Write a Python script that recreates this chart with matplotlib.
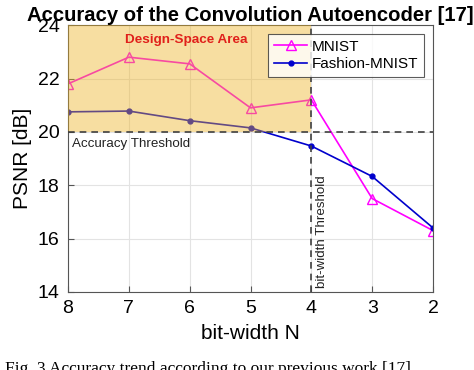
import numpy as np
import matplotlib.pyplot as plt

plt.rcParams['font.family'] = ['Liberation Sans', 'DejaVu Sans']

bits = [8, 7, 6, 5, 4, 3, 2]
psnr_mnist = [21.8, 22.8, 22.55, 20.9, 21.2, 17.5, 16.3]
psnr_fashion = [20.75, 20.78, 20.42, 20.15, 19.47, 18.33, 16.4]
acc_threshold = 20
bit_threshold = 4

fig = plt.figure(figsize=(4.74, 3.7), dpi=100)
ax = fig.add_axes([0.1435, 0.211, 0.77, 0.721])

ax.plot(bits, psnr_mnist, color='#ff00ff', marker='^', markersize=7,
        markerfacecolor='none', markeredgewidth=1.0, linewidth=1.2, label='MNIST')
ax.plot(bits, psnr_fashion, color='#0000cc', marker='o', markersize=3.5,
        linewidth=1.2, label='Fashion-MNIST')

# design space shading, drawn over the lines like the original
ax.fill_between([8, bit_threshold], acc_threshold, 24, color='#EDB120',
                alpha=0.42, linewidth=0, zorder=3)

ax.axhline(acc_threshold, color='#404040', linestyle=(0, (4, 3)), linewidth=1.2, zorder=4)
ax.axvline(bit_threshold, color='#404040', linestyle=(0, (4, 3)), linewidth=1.2, zorder=4)

ax.text(6.05, 23.45, 'Design-Space Area', color='#e0201b', fontweight='bold',
        fontsize=9.7, ha='center', va='center', zorder=5)
ax.text(7.93, 19.55, 'Accuracy Threshold', color='#222222', fontsize=9.6,
        ha='left', va='center', zorder=5)
ax.text(3.83, 14.15, 'bit-width Threshold', color='#222222', fontsize=9.6,
        rotation=90, ha='center', va='bottom', zorder=5)

ax.set_xlim(8, 2)
ax.set_ylim(14, 24)
ax.set_xticks(bits)
ax.set_yticks([14, 16, 18, 20, 22, 24])
ax.tick_params(direction='in', labelsize=14, length=4, color='#555555', pad=6)
ax.grid(True, color='#e3e3e3', linewidth=0.8)
ax.set_axisbelow(True)
for s in ax.spines.values():
    s.set_color('#555555')
    s.set_linewidth(0.8)

ax.set_xlabel('bit-width N', fontsize=15, labelpad=5)
ax.set_ylabel('PSNR [dB]', fontsize=15, labelpad=4)
ax.set_title('Accuracy of the Convolution Autoencoder [17]', fontsize=14.6,
             fontweight='bold', pad=3)

leg = ax.legend(loc='upper right', fontsize=11, frameon=True, fancybox=False,
                edgecolor='#333333', borderpad=0.35, handlelength=2.2,
                handletextpad=0.3, labelspacing=0.25, borderaxespad=0.6)
leg.get_frame().set_linewidth(0.8)
leg.set_zorder(6)

fig.text(0.01, 0.024, 'Fig. 3 Accuracy trend according to our previous work [17].',
         family='Liberation Serif', fontsize=12.5, va='top', ha='left')

fig.savefig('out.png', dpi=100)
